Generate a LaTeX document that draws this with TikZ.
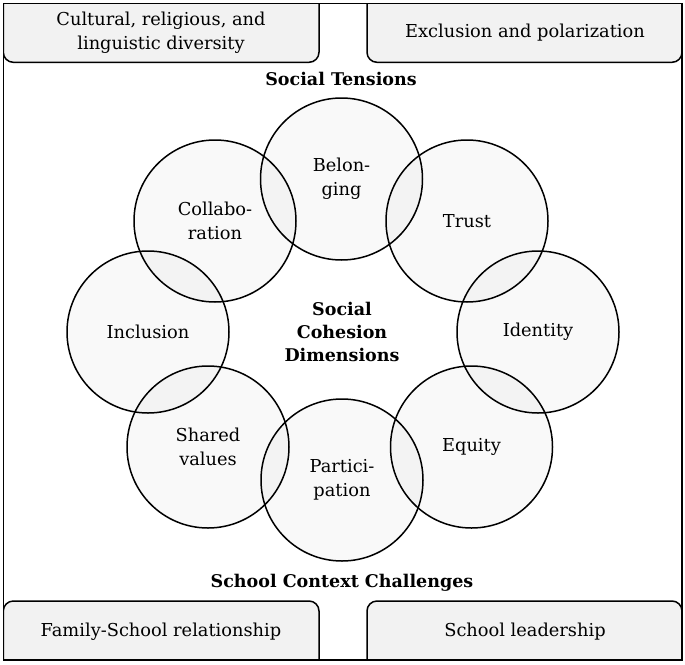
\documentclass[tikz,border=0pt]{standalone}
\usepackage{fontspec}
\setmainfont{DejaVu Serif}
\begin{document}
\begin{tikzpicture}[
  x=1pt, y=-1pt,
  every node/.style={font=\fontsize{17.8}{24}\selectfont, align=center},
  dimcircle/.style={circle, draw=black, line width=1.5pt, minimum size=162pt,
    inner sep=0pt, fill=black, fill opacity=0.025, text opacity=1},
  headbox/.style={draw=black, line width=1.5pt, fill=boxgray, rounded corners=10pt},
  heading/.style={font=\fontsize{17.5}{23}\selectfont\bfseries},
]

\definecolor{boxgray}{RGB}{242,242,242}

% ============================================================
% FRAME
% ============================================================
\def\fL{3.3}   % frame left
\def\fT{3.3}   % frame top
\def\fR{682}   % frame right
\def\fB{660}   % frame bottom
\def\boxH{59}  % height of the corner boxes

\useasboundingbox (0,0) rectangle (685,664);

% Corner boxes: rounded only on the inner side, so clip to the frame
\begin{scope}
  \clip (\fL,\fT) rectangle (\fR,\fB);
  \draw[headbox] (\fL,-20) rectangle (319,\fT+\boxH);
  \draw[headbox] (367,-20) rectangle (\fR,\fT+\boxH);
  \draw[headbox] (\fL,\fB-\boxH) rectangle (319,\fB+20);
  \draw[headbox] (367,\fB-\boxH) rectangle (\fR,\fB+20);
\end{scope}
\draw[line width=1.5pt] (\fL,\fT) rectangle (\fR,\fB);

% Box texts
\node (diversity) at (161,33) {Cultural, religious, and\\linguistic diversity};
\node (exclusion) at (525,33) {Exclusion and polarization};
\node (family) at (161,632) {Family-School relationship};
\node (leadership) at (525,632) {School leadership};

% Headings
\node[heading] (tensions) at (341,79) {Social Tensions};
\node[heading] (challenges) at (342,583) {School Context Challenges};

% ============================================================
% DIMENSION CIRCLES
% name, centre x, centre y, label
% ============================================================
\foreach \name/\cx/\cy/\lbl in {
  belonging/341.5/179/{Belon-\\ging},
  trust/467/221/{Trust},
  identity/538/332/{Identity},
  equity/471.5/447/{Equity},
  participation/342/480/{Partici-\\pation},
  sharedvalues/208/447/{Shared\\values},
  inclusion/148/332/{Inclusion},
  collaboration/215/221/{Collabo-\\ration}}{
  \node[dimcircle] (\name) at (\cx,\cy) {\lbl};
}

% Centre label
\node[heading] (cohesion) at (342,332) {Social\\Cohesion\\Dimensions};

\end{tikzpicture}
\end{document}
